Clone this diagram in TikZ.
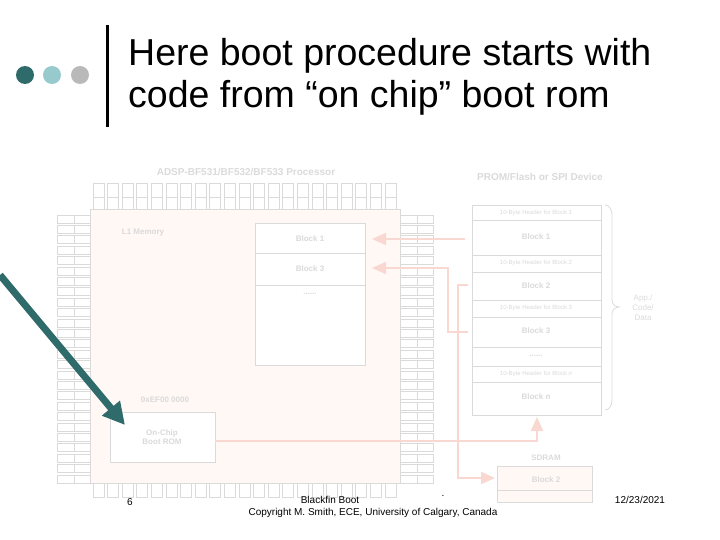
\documentclass[tikz,border=0pt]{standalone}
\usepackage{fontspec}
\setmainfont{Liberation Sans}
\usetikzlibrary{arrows.meta}
\definecolor{teal}{HTML}{2F6B6B}
\definecolor{aqua}{HTML}{96CACC}
\definecolor{pale}{HTML}{DADADA}
\definecolor{blush}{HTML}{F8D8D0}
\definecolor{chipbg}{HTML}{FFF8F4}
\tikzset{
  pin/.style={draw=pale, fill=white, line width=0.8pt},
  faded/.style={text=pale, font=\bfseries\fontsize{8}{9}\selectfont},
  mem/.style={draw=pale, line width=0.8pt},
  flow/.style={draw=blush, line width=2pt, -{Triangle[length=14pt,width=12pt]}},
  foot/.style={font=\fontsize{10}{11}\selectfont}
}
\begin{document}
\begin{tikzpicture}[x=1pt,y=-1pt]
\useasboundingbox (0,0) rectangle (720,540);
% title bullets
\fill[teal] (25,75) circle(9);
\fill[aqua] (52,75) circle(9);
\fill[pale!85!black] (80,75) circle(9);
\draw[line width=3pt] (107,25)--(107,127);
\node[anchor=north west, align=left, font=\fontsize{37.5}{42}\selectfont, inner sep=0pt] (title) at (128,38)
  {Here boot procedure starts with\\code from “on chip” boot rom};
% chip pins
\foreach \i in {0,...,20}
  \draw[pin] ({93+\i*14.6},183) rectangle ++(11,27) ({93+\i*14.6},197)--++(11,0);
\foreach \i in {0,...,25}{
  \draw[pin] (57,{215+\i*10.4}) rectangle ++(33,8) (74,{215+\i*10.4})--++(0,8);
  \draw[pin] (400,{215+\i*10.4}) rectangle ++(33,8) (417,{215+\i*10.4})--++(0,8);}
\foreach \i in {0,...,20}
  \draw[pin] ({93+\i*14.6},483) rectangle ++(11,14);
% chip body
\draw[pale, fill=chipbg, line width=1pt] (90,210) rectangle (400,483);
\node[faded, font=\bfseries\fontsize{10}{11}\selectfont] (cpu) at (246,172) {ADSP-BF531/BF532/BF533 Processor};
\node[faded] (l1) at (143,233) {L1 Memory};
\draw[mem, fill=white] (255,223) rectangle (365,365);
\draw[mem] (255,253)--(365,253) (255,285)--(365,285);
\node[faded] (c1) at (310,239) {Block 1};
\node[faded] (c3) at (310,269) {Block 3};
\node[faded] (cdots) at (310,294) {......};
\node[faded] (addr) at (165,400) {0xEF00 0000};
\draw[mem, fill=white] (110,412) rectangle (215,462);
\node[faded, align=center] (rom) at (162,437) {On-Chip\\Boot ROM};
% PROM
\node[faded, font=\bfseries\fontsize{10}{11}\selectfont] (prom) at (540,177) {PROM/Flash or SPI Device};
\draw[mem, fill=white] (472,205) rectangle (601,415);
\foreach \y in {220,255,272,300,317,347,366,382}
  \draw[mem] (472,\y)--(601,\y);
\node[faded, font=\fontsize{6}{7}\selectfont] (h1) at (536,213) {10-Byte Header for Block 1};
\node[faded] (p1) at (536,237) {Block 1};
\node[faded, font=\fontsize{6}{7}\selectfont] (h2) at (536,263) {10-Byte Header for Block 2};
\node[faded] (p2) at (536,286) {Block 2};
\node[faded, font=\fontsize{6}{7}\selectfont] (h3) at (536,308) {10-Byte Header for Block 3};
\node[faded] (p3) at (536,331) {Block 3};
\node[faded] (pdots) at (536,356) {......};
\node[faded, font=\fontsize{6}{7}\selectfont] (hn) at (536,374) {10-Byte Header for Block \textit{n}};
\node[faded] (pn) at (536,397) {Block \textit{n}};
\draw[mem] (605,205) to[out=0,in=90] (612,215)--(612,300) to[out=-90,in=180] (619,307) to[out=180,in=90] (612,314)--(612,400) to[out=-90,in=0] (605,410);
\node[faded, align=center, font=\fontsize{8}{10}\selectfont] (app) at (643,308) {App./\\Code/\\Data};
% SDRAM
\node[faded] (sdram) at (546,458) {SDRAM};
\draw[mem, fill=chipbg] (497,466) rectangle (592,502);
\draw[mem] (497,490)--(592,490);
\node[faded] (s2) at (546,480) {Block 2};
% flows
\draw[flow] (465,239)--(372,239);
\draw[flow] (468,332)--(448,332)--(448,268)--(372,268);
\draw[flow] (468,285)--(458,285)--(458,478)--(495,478);
\draw[flow] (215,441)--(537,441)--(537,417);
% pointer
\draw[teal, line width=7pt, -{Triangle[length=22pt,width=22pt]}] (0,275)--(125,425);
% footer
\node[foot] (page) at (130,502) {6};
\node[foot] (topic) at (330,500) {Blackfin Boot};
\node[foot] (dot) at (443,496) {.};
\node[foot] (copy) at (373,513) {Copyright M. Smith, ECE, University of Calgary, Canada};
\node[foot] (date) at (640,500) {12/23/2021};
\end{tikzpicture}
\end{document}
